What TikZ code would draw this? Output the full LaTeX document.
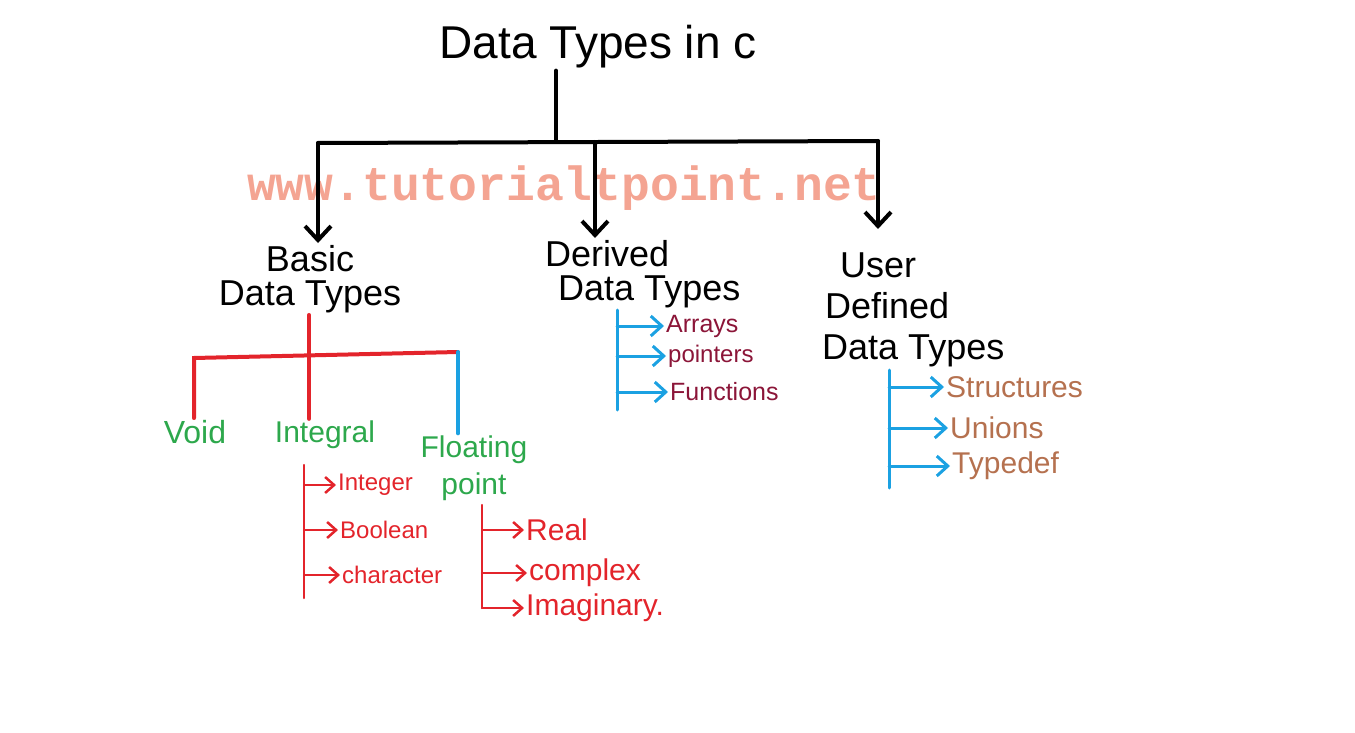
\documentclass[tikz,border=0pt]{standalone}
\usepackage{fontspec}
\setmainfont{Liberation Sans}
\newfontfamily\markfont{Liberation Mono}
\usetikzlibrary{arrows.meta}

\definecolor{penred}{HTML}{E3242B}
\definecolor{pengreen}{HTML}{2DA84C}
\definecolor{penblue}{HTML}{1BA1E2}
\definecolor{penmaroon}{HTML}{8B1538}
\definecolor{penbrown}{HTML}{B5714F}
\definecolor{marksalmon}{HTML}{F4A492}

\newcommand{\penfont}[1]{\fontsize{#1}{#1}\selectfont}

\begin{document}
\begin{tikzpicture}[x=1pt, y=-1pt, inner sep=2pt,
	blackline/.style={line width=4pt, line cap=round},
	blackarr/.style={blackline, -{Straight Barb[length=14pt, width=26pt]}},
	redline/.style={penred, line width=4pt, line cap=round},
	blueline/.style={penblue, line width=4pt, line cap=round},
	redleaf/.style={penred, line width=2.5pt, line cap=round},
	redarr/.style={redleaf, -{Straight Barb[length=9pt, width=16pt]}},
	blueleaf/.style={penblue, line width=3pt, line cap=round},
	bluearr/.style={blueleaf, -{Straight Barb[length=11pt, width=20pt]}}]
	
	\useasboundingbox (0,0) rectangle (1355,733);
	
	% watermark behind everything
	\node[text=marksalmon, font=\markfont\bfseries\penfont{48}] (mark) at (564,188) {www.tutorialtpoint.net};
	
	% top level
	\node[font=\fontsize{46}{50}\selectfont] (title) at (598,47) {Data Types in c};
	\node[align=center, font=\fontsize{36}{34}\selectfont] (basic) at (310,279) {Basic\\Data Types};
	\node[align=left, anchor=north west, font=\fontsize{36}{34}\selectfont] (derived) at (543,238) {Derived\\\hspace*{13pt}Data Types};
	\node[align=left, anchor=north west, font=\fontsize{36}{41}\selectfont] (userdef) at (820,251) {\hspace*{18pt}User\\\hspace*{3pt}Defined\\Data Types};
	
	\coordinate (top) at (556,142);
	\coordinate (barL) at (318,143);
	\coordinate (barM) at (595,142);
	\coordinate (barR) at (878,141);
	
	\draw[blackline] (title.south -| top) -- (top);
	\draw[blackline] (barL) -- (barR);
	\draw[blackarr] (barL) -- (barL |- basic.north);
	\draw[blackarr] (barM) -- (barM |- derived.north);
	\draw[blackarr, shorten >=22pt] (barR) -- (barR |- userdef.north);
	
	% basic data types
	\node[text=pengreen, font=\penfont{32}] (void) at (195,432) {Void};
	\node[text=pengreen, font=\penfont{30}] (integral) at (325,435) {Integral};
	\node[text=pengreen, align=center, font=\fontsize{30}{37}\selectfont] (floating) at (474,468) {Floating\\point};
	
	\coordinate (bj) at (309,356);
	\coordinate (bjL) at (194,358);
	\coordinate (bjR) at (458,352);
	
	\draw[redline] (bj |- basic.south) -- (bj |- integral.north);
	\draw[redline] (bjR) -- (bjL) -- (bjL |- void.north);
	\draw[blueline] (bjR) -- (bjR |- floating.north);
	
	% integral
	\node[text=penred, anchor=west, font=\penfont{24}] (integer) at (336,485) {Integer};
	\node[text=penred, anchor=west, font=\penfont{24}] (boolean) at (338,530) {Boolean};
	\node[text=penred, anchor=west, font=\penfont{24}] (character) at (340,575) {character};
	
	\coordinate (ispine) at (304,465);
	\coordinate (iend) at (304,598);
	\draw[redleaf] (ispine) -- (iend);
	\foreach \leaf in {integer, boolean, character}
		\draw[redarr] (ispine |- \leaf.west) -- (\leaf.west);
	
	% floating point
	\node[text=penred, anchor=west, font=\penfont{30}] (real) at (524,530) {Real};
	\node[text=penred, anchor=west, font=\penfont{30}] (complex) at (527,573) {complex};
	\node[text=penred, anchor=west, font=\penfont{30}] (imaginary) at (524,608) {Imaginary.};
	
	\coordinate (fspine) at (482,505);
	\draw[redleaf] (fspine) -- (fspine |- imaginary.west);
	\foreach \leaf in {real, complex, imaginary}
		\draw[redarr] (fspine |- \leaf.west) -- (\leaf.west);
	
	% derived
	\node[text=penmaroon, anchor=west, font=\penfont{25}] (arrays) at (664,326) {Arrays};
	\node[text=penmaroon, anchor=west, font=\penfont{24}] (pointers) at (666,356) {pointers};
	\node[text=penmaroon, anchor=west, font=\penfont{25}] (functions) at (668,392) {Functions};
	
	\coordinate (dspine) at (617,310);
	\coordinate (dend) at (617,410);
	\draw[blueleaf] (dspine) -- (dend);
	\foreach \leaf in {arrays, pointers, functions}
		\draw[bluearr] (dspine |- \leaf.west) -- (\leaf.west);
	
	% user defined
	\node[text=penbrown, anchor=west, font=\penfont{30}] (structures) at (944,387) {Structures};
	\node[text=penbrown, anchor=west, font=\penfont{30}] (unions) at (948,428) {Unions};
	\node[text=penbrown, anchor=west, font=\penfont{30}] (typedef) at (950,466) {Typedef};
	
	\coordinate (uspine) at (889,370);
	\coordinate (uend) at (889,488);
	\draw[blueleaf] (uspine) -- (uend);
	\foreach \leaf in {structures, unions, typedef}
		\draw[bluearr] (uspine |- \leaf.west) -- (\leaf.west);
	
\end{tikzpicture}
\end{document}
